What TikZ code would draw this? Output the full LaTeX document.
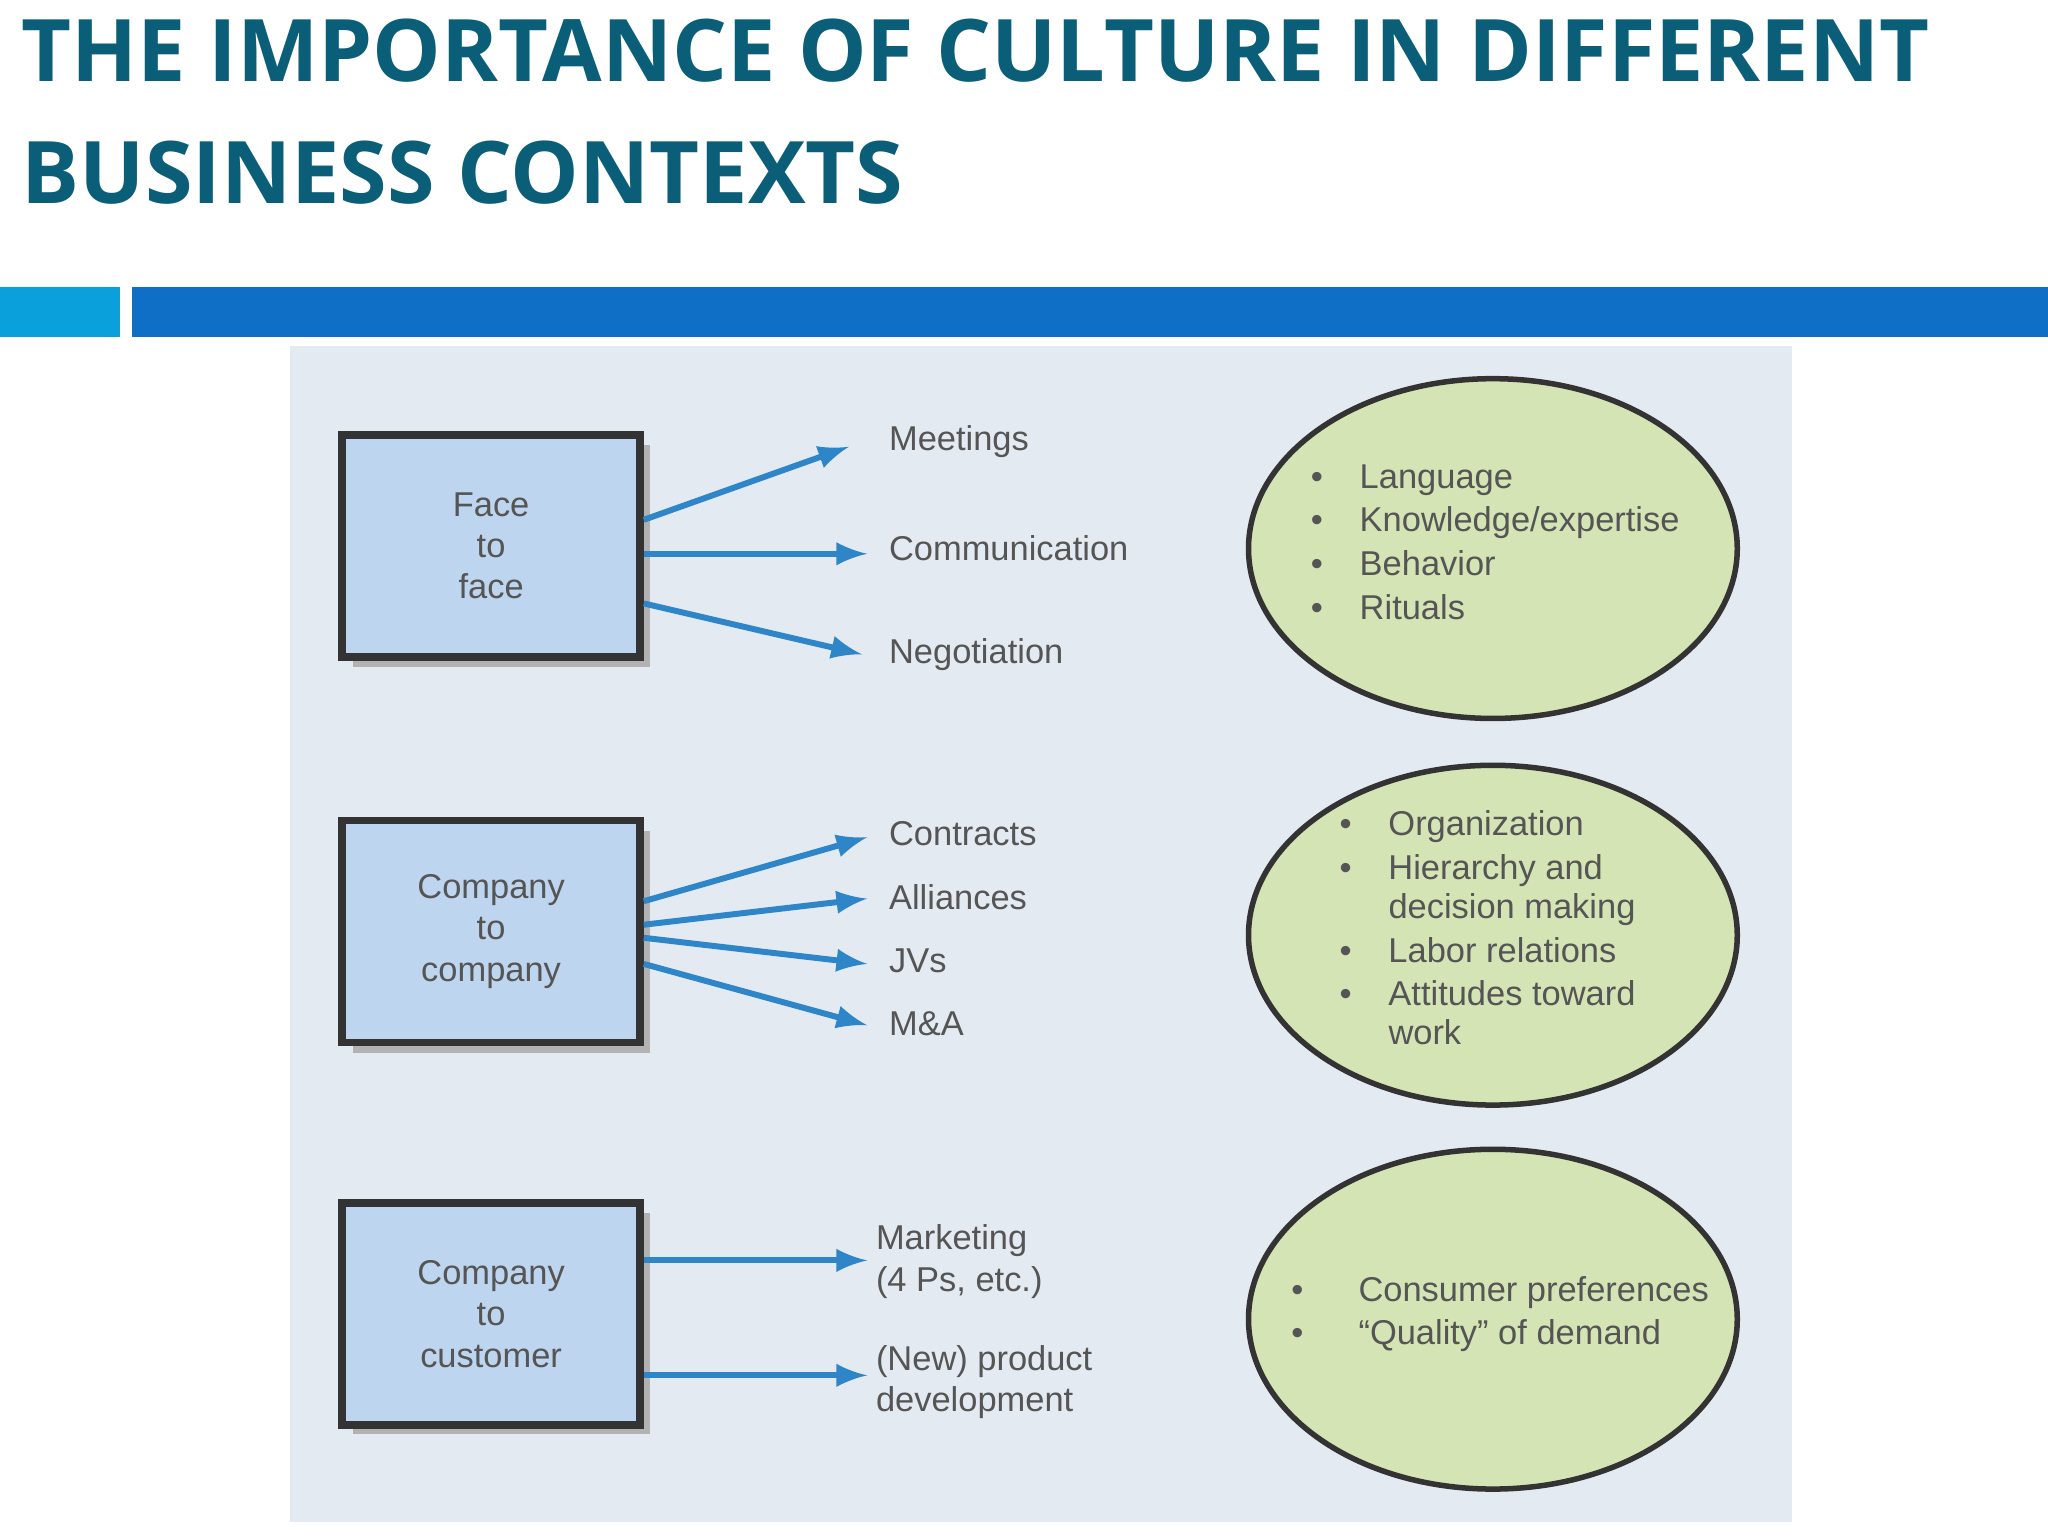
\documentclass[tikz,border=0pt]{standalone}
\usepackage{fontspec}
\setmainfont{Liberation Sans}
\newfontfamily\titlefont{Open Sans}
\usetikzlibrary{shapes.geometric,calc}
\definecolor{ttl}{HTML}{0B5E78}
\definecolor{lb}{HTML}{0AA0DC}
\definecolor{db}{HTML}{0F6FC6}
\definecolor{panel}{HTML}{E4EAF1}
\definecolor{boxf}{HTML}{BDD5EE}
\definecolor{ellf}{HTML}{D4E4B4}
\definecolor{arrc}{HTML}{2E86C8}
\definecolor{txt}{HTML}{555555}
\tikzset{
  x=0.01cm,y=-0.01cm,
  ctx/.style={draw=black!80,line width=1.6pt,fill=boxf,minimum width=2.28cm,minimum height=1.7cm,align=center,font=\fontsize{7.5}{9}\selectfont,text=txt},
  shad/.style={fill=black!30},
  ell/.style={draw=black!80,line width=1.2pt,fill=ellf,ellipse,minimum width=3.74cm,minimum height=2.6cm},
  lbl/.style={anchor=west,font=\fontsize{7.5}{9}\selectfont,text=txt,align=left,inner sep=0pt},
  blt/.style={anchor=west,font=\fontsize{7.5}{8.5}\selectfont,text=txt,align=left,inner sep=0pt},
  arr/.style={draw=arrc,line width=1.3pt,-latex}
}
\begin{document}
\begin{tikzpicture}
\useasboundingbox (0,0) rectangle (1568,1176);
\fill[white] (0,0) rectangle (1568,1176);
\node[anchor=north west,inner sep=0pt,font=\titlefont\bfseries\fontsize{18.8}{26.5}\selectfont,text=ttl,align=left] (title) at (16,14) {THE IMPORTANCE OF CULTURE IN DIFFERENT\\BUSINESS CONTEXTS};
\fill[lb] (0,220) rectangle (92,258);
\fill[db] (101,220) rectangle (1568,258);
\fill[panel] (222,265) rectangle (1372,1165);
% shadows
\fill[shad] (270,341) rectangle (498,511);
\fill[shad] (270,636) rectangle (498,806);
\fill[shad] (270,929) rectangle (498,1098);
\node[ctx] (b1) at (376,418) {Face\\to\\face};
\node[ctx] (b2) at (376,713) {Company\\to\\company};
\node[ctx] (b3) at (376,1006) {Company\\to\\customer};
% labels
\node[lbl] (m1) at (680,338) {Meetings};
\node[lbl] (m2) at (680,420) {Communication};
\node[lbl] (m3) at (680,501) {Negotiation};
\node[lbl] (c1) at (680,638) {Contracts};
\node[lbl] (c2) at (680,687) {Alliances};
\node[lbl] (c3) at (680,736) {JVs};
\node[lbl] (c4) at (680,784) {M\&A};
\node[lbl] (k1) at (670,966) {Marketing\\(4 Ps, etc.)};
\node[lbl] (k2) at (670,1058) {(New) product\\development};
% arrows
\draw[arr] ($(b1.east)+(0,-20)$) -- ($(m1.west)+(-30,4)$);
\draw[arr] ($(b1.east)+(0,6)$) -- ($(m2.west)+(-16,4)$);
\draw[arr] ($(b1.east)+(0,44)$) -- ($(m3.west)+(-20,0)$);
\draw[arr] ($(b2.east)+(0,-23)$) -- ($(c1.west)+(-16,3)$);
\draw[arr] ($(b2.east)+(0,-5)$) -- ($(c2.west)+(-16,1)$);
\draw[arr] ($(b2.east)+(0,5)$) -- ($(c3.west)+(-16,2)$);
\draw[arr] ($(b2.east)+(0,25)$) -- ($(c4.west)+(-16,1)$);
\draw[arr] ($(b3.east)+(0,-41)$) -- ($(k1.west)+(-6,-1)$);
\draw[arr] ($(b3.east)+(0,47)$) -- ($(k2.west)+(-6,-5)$);
% ellipses
\node[ell] (e1) at (1143,420) {};
\node[ell] (e2) at (1143,716) {};
\node[ell] (e3) at (1143,1010) {};
\node[blt] (t1) at (1003,418) {%
\begin{tabular}{@{}l@{\hspace{8pt}}l@{}}
\textbullet & Language\\[1pt]
\textbullet & Knowledge/expertise\\[1pt]
\textbullet & Behavior\\[1pt]
\textbullet & Rituals
\end{tabular}};
\node[blt] (t2) at (1025,714) {%
\begin{tabular}{@{}l@{\hspace{8pt}}l@{}}
\textbullet & Organization\\[1pt]
\textbullet & Hierarchy and\\
 & decision making\\[1pt]
\textbullet & Labor relations\\[1pt]
\textbullet & Attitudes toward\\
 & work
\end{tabular}};
\node[blt] (t3) at (988,1007) {%
\begin{tabular}{@{}l@{\hspace{12pt}}l@{}}
\textbullet & Consumer preferences\\[1pt]
\textbullet & ``Quality'' of demand
\end{tabular}};
\end{tikzpicture}
\end{document}
